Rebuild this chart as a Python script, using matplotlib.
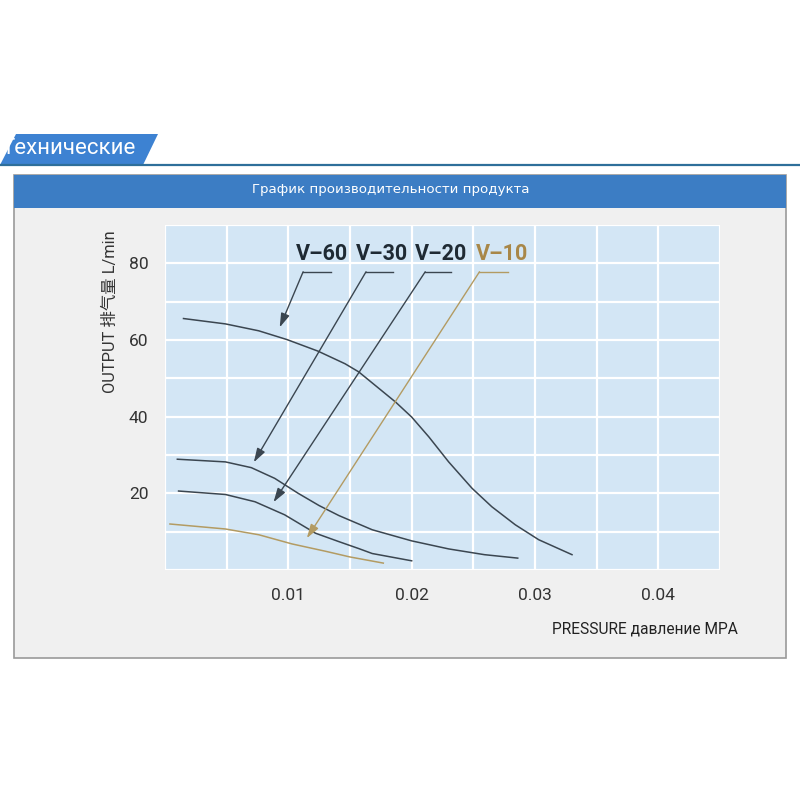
import matplotlib.pyplot as plt
from matplotlib.patches import Polygon, Rectangle

# curve data (pressure MPa, output L/min)
v60_x = [0.0015, 0.0049, 0.0076, 0.0099, 0.0124, 0.0146, 0.0157, 0.0187, 0.0200, 0.0214, 0.0230, 0.0249, 0.0265, 0.0284, 0.0303, 0.0330]
v60_y = [65.6, 64.2, 62.4, 60.1, 57.1, 53.8, 51.7, 43.8, 39.9, 34.7, 28.2, 21.3, 16.5, 11.8, 7.9, 4.0]
v30_x = [0.0010, 0.0049, 0.0070, 0.0089, 0.0108, 0.0125, 0.0141, 0.0168, 0.0200, 0.0230, 0.0259, 0.0286]
v30_y = [28.9, 28.2, 26.7, 23.9, 20.0, 16.8, 14.2, 10.5, 7.6, 5.5, 4.0, 3.1]
v20_x = [0.0011, 0.0049, 0.0073, 0.0097, 0.0122, 0.0141, 0.0157, 0.0168, 0.0200]
v20_y = [20.6, 19.7, 17.8, 14.4, 9.6, 7.4, 5.6, 4.3, 2.4]
v10_x = [0.0004, 0.0049, 0.0076, 0.0103, 0.0130, 0.0150, 0.0177]
v10_y = [12.0, 10.7, 9.2, 6.8, 4.9, 3.4, 1.8]

labels = ["V-60", "V-30", "V-20", "V-10"]
label_x = [0.0127, 0.0176, 0.0224, 0.0273]
# leader lines: start/end of short horizontal part, arrow tip
lead_x0 = [0.0112, 0.0163, 0.0211, 0.0255]
lead_x1 = [0.0135, 0.0185, 0.0232, 0.0278]
tip_x = [0.0093, 0.0072, 0.0088, 0.0115]
tip_y = [63.3, 28.1, 17.7, 8.3]

xticks = [0.01, 0.02, 0.03, 0.04]
yticks = [20, 40, 60, 80]

dark = "#3b4650"
tan = "#b39b62"
narrow = ["Liberation Sans Narrow", "Roboto", "DejaVu Sans"]

fig = plt.figure(figsize=(8, 8), dpi=100)
fig.patch.set_facecolor("white")

# banner at top
fig.patches.append(Polygon([[0, 1 - 165 / 800], [143 / 800, 1 - 165 / 800], [158 / 800, 1 - 134 / 800], [16 / 800, 1 - 134 / 800]],
                           closed=True, transform=fig.transFigure, facecolor="#3d82d2", edgecolor="none", zorder=-2))
fig.text(1 / 800, 1 - 149 / 800, "Технические", color="white", fontsize=16, va="center", ha="left", family="Roboto")
fig.lines.append(plt.Line2D([0, 1], [1 - 165 / 800, 1 - 165 / 800], transform=fig.transFigure, color="#2e6f9a", lw=1.6))

# panel
fig.patches.append(Rectangle((14 / 800, 1 - 658 / 800), 772 / 800, 483 / 800, transform=fig.transFigure,
                             facecolor="#f0f0f0", edgecolor="#9a9a9a", lw=1.2, zorder=-2))
fig.patches.append(Rectangle((14 / 800, 1 - 208 / 800), 772 / 800, 33 / 800, transform=fig.transFigure,
                             facecolor="#3c7dc4", edgecolor="none", zorder=-1))
fig.text(391 / 800, 1 - 189 / 800, "График производительности продукта", color="white", fontsize=9.6, ha="center", va="center")

ax = fig.add_axes([165 / 800, 1 - 570 / 800, 555 / 800, 345 / 800])
ax.set_zorder(2)
ax.set_facecolor("#d3e6f5")
ax.set_xlim(0, 0.045)
ax.set_ylim(0, 90)
for s in ax.spines.values():
    s.set_visible(False)
ax.set_xticks(xticks)
ax.set_xticklabels([str(t) for t in xticks], fontsize=12.5, family="Roboto", color="#333333")
ax.set_xticks([i * 0.005 for i in range(10)], minor=True)
ax.set_yticks(yticks)
ax.set_yticklabels([str(t) for t in yticks], fontsize=12.5, family="Roboto", color="#333333")
ax.set_yticks(range(0, 91, 10), minor=True)
ax.grid(True, which="both", color="white", lw=1.6)
ax.set_axisbelow(True)
ax.tick_params(which="both", length=0)
ax.tick_params(axis="x", pad=13)
ax.tick_params(axis="y", pad=12)

ax.plot(v60_x, v60_y, color=dark, lw=1.1)
ax.plot(v30_x, v30_y, color=dark, lw=1.1)
ax.plot(v20_x, v20_y, color=dark, lw=1.1)
ax.plot(v10_x, v10_y, color=tan, lw=1.1)

for i, lab in enumerate(labels):
    c = "#a88748" if lab == "V-10" else "#1f2a33"
    lc = tan if lab == "V-10" else dark
    ax.text(label_x[i], 82.5, lab.replace("-", "\u2013"), color=c, fontsize=15.5, fontweight="bold",
            ha="center", va="center", family=narrow)
    ax.plot([lead_x0[i], lead_x1[i]], [77.8, 77.8], color=lc, lw=1)
    ax.annotate("", xy=(tip_x[i], tip_y[i]), xytext=(lead_x0[i], 77.8),
                arrowprops=dict(arrowstyle="-|>,head_length=0.7,head_width=0.22", color=lc, lw=1,
                                mutation_scale=12, shrinkA=0, shrinkB=0))

fig.text(110 / 800, 1 - 312 / 800, "OUTPUT 排气量 L/min", rotation=90, fontsize=11.8, ha="center", va="center",
         family=["Roboto", "Noto Sans CJK SC"], color="#333333")
fig.text(645 / 800, 1 - 629 / 800, "PRESSURE давление MPA", fontsize=11.2, ha="center", va="center",
         family="Roboto", color="#222222")

fig.savefig("out.png", dpi=100)
